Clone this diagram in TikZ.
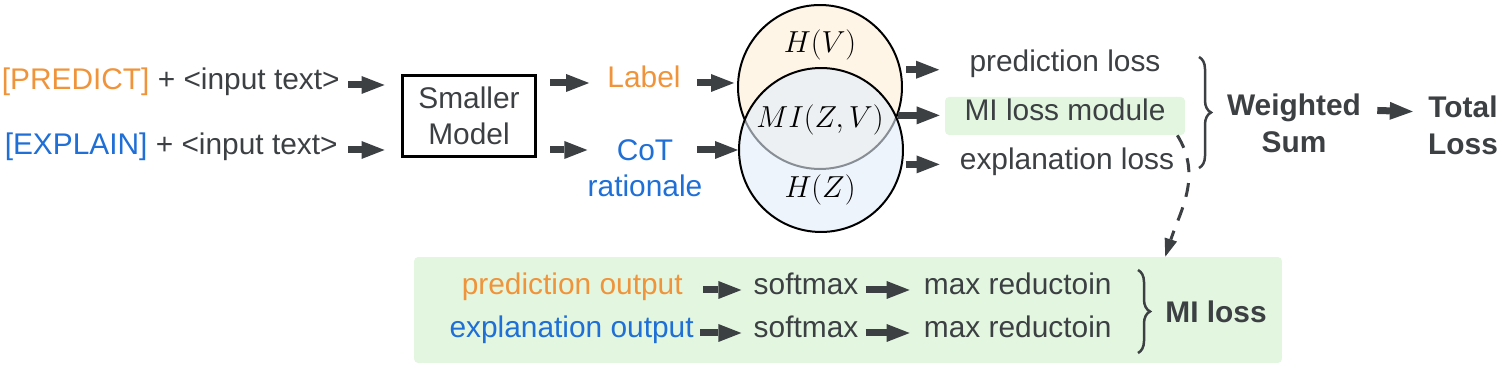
\documentclass[tikz,border=0pt]{standalone}
\usepackage[no-math]{fontspec}
\setmainfont{Liberation Sans}
\usetikzlibrary{positioning,arrows.meta,decorations.pathreplacing}
\definecolor{ink}{HTML}{3C4043}
\definecolor{predcol}{HTML}{F0943C}
\definecolor{explcol}{HTML}{1F6FD6}
\definecolor{mintfill}{HTML}{E3F7E0}
\definecolor{vfill}{HTML}{FEF5E6}
\definecolor{zfill}{HTML}{E3EDFA}
\tikzset{
  txt/.style={text=ink,inner sep=0pt,font=\fontsize{17}{20.5}\selectfont,
    text height=0.75em,text depth=0.22em},
  txtml/.style={text=ink,inner sep=0pt,font=\fontsize{17}{20.5}\selectfont,
    align=center},
  bold/.style={txtml,font=\fontsize{17}{21}\selectfont\bfseries},
  mathlbl/.style={inner sep=0pt,font=\fontsize{17.5}{20}\selectfont},
  modelbox/.style={txtml,draw=black,line width=0.06cm,minimum width=2.68cm,
    minimum height=1.64cm},
  setv/.style={circle,draw=black,line width=0.04cm,minimum size=3.28cm,
    inner sep=0pt},
  fat/.style={-{Triangle[length=0.46cm,width=0.36cm,line width=0pt]},
    line width=0.14cm,draw=ink},
  dashflow/.style={-{Triangle[length=0.36cm,width=0.26cm,line width=0pt]},
    line width=0.06cm,draw=ink,dash pattern=on 0.28cm off 0.22cm},
  brc/.style={decorate,decoration={brace,amplitude=0.24cm},line width=0.05cm,
    draw=ink},
  greenbox/.style={fill=mintfill,rounded corners=0.08cm,inner sep=0pt},
}
\begin{document}
\begin{tikzpicture}[x=0.02cm,y=-0.02cm]
  \useasboundingbox (0,0) rectangle (1502,367);
  % inputs and model
  \node[txt,anchor=east] (pin1) at (340,85) {{\color{predcol}[PREDICT]} + <input text>};
  \node[txt,anchor=east] (pin2) at (338,150) {{\color{explcol}[EXPLAIN]} + <input text>};
  \node[modelbox] (model) at (469,116) {Smaller\\Model};
  \node[txt,text=predcol] (lab) at (644,83) {Label};
  \node[txtml,text=explcol] (cot) at (645,168) {CoT\\rationale};
  \draw[fat,shorten <=0.16cm,shorten >=0.32cm] (pin1.east) -- (pin1.east -| model.west);
  \draw[fat,shorten <=0.2cm,shorten >=0.32cm] (pin2.east) -- (pin2.east -| model.west);
  \draw[fat,shorten <=0.26cm,shorten >=0.36cm] (model.east |- lab.west) -- (lab.west);
  \draw[fat,shorten <=0.26cm] (model.east |- pin2) -- (cot.west |- pin2);
  % venn
  \node[setv,fill=vfill] (cv) at (820,87) {};
  \node[setv,fill=zfill,fill opacity=0.6] (cz) at (821,150) {};
  \node[mathlbl] (hv) at (820,45) {$H(V)$};
  \node[mathlbl,font=\fontsize{18}{20}\selectfont] (mi) at (820,120) {$MI(Z,V)$};
  \node[mathlbl] (hz) at (820,190) {$H(Z)$};
  \draw[fat,shorten <=0.32cm,shorten >=0.06cm] (lab.east) -- (lab.east -| cv.west);
  \draw[fat,shorten <=0.32cm] (lab.east |- pin2) -- (cz.west);
  % losses
  \node[txt] (ploss) at (1065,67) {prediction loss};
  \node[txt,fill=mintfill,rounded corners=0.08cm,minimum width=4.8cm,
    minimum height=0.76cm] (mimod) at (1065,116) {MI loss module};
  \node[txt] (eloss) at (1067,165) {explanation loss};
  \draw[fat,shorten <=0.1cm,shorten >=0.6cm] (cv.12) -- (cv.12 -| ploss.west);
  \draw[fat,shorten >=0.1cm] (cv.-20) -- (cv.-20 -| mimod.west);
  \draw[fat,shorten <=0.06cm,shorten >=0.4cm] (cz.-10) -- (cz.-10 -| eloss.west);
  \draw[brc] (1199,57) -- (1199,168);
  \node[bold] (wsum) at (1294,123) {Weighted\\Sum};
  \node[bold] (total) at (1463,125) {Total\\Loss};
  \draw[fat,shorten <=0.32cm,shorten >=0.3cm] ([yshift=0.26cm]wsum.east) -- ([yshift=0.26cm]total.west);
  % MI loss module
  \node[greenbox,minimum width=17.36cm,minimum height=2.12cm] (mibig) at (848,310) {};
  \node[txt,anchor=east,text=predcol] (pout) at (683,290) {prediction output};
  \node[txt,anchor=east,text=explcol] (eout) at (694,333) {explanation output};
  \node[txt] (sm1) at (806,290) {softmax};
  \node[txt] (sm2) at (806,333) {softmax};
  \node[txt,right=1.3cm of sm1] (mr1) {max reductoin};
  \node[txt,right=1.3cm of sm2] (mr2) {max reductoin};
  \draw[fat,shorten <=0.4cm,shorten >=0.24cm] (pout.east) -- (sm1.west);
  \draw[fat,shorten <=0.12cm,shorten >=0.24cm] (eout.east) -- (sm2.west);
  \draw[fat,shorten <=0.14cm,shorten >=0.28cm] (sm1.east) -- (mr1.west);
  \draw[fat,shorten <=0.14cm,shorten >=0.28cm] (sm2.east) -- (mr2.west);
  \draw[brc] (1138,270) -- (1138,353);
  \node[bold] (miloss) at (1216,312) {MI loss};
  \draw[dashflow] ([xshift=-0.16cm]mimod.south east) to[out=-58,in=72]
    ([xshift=-2.34cm]mibig.north east);
\end{tikzpicture}
\end{document}
